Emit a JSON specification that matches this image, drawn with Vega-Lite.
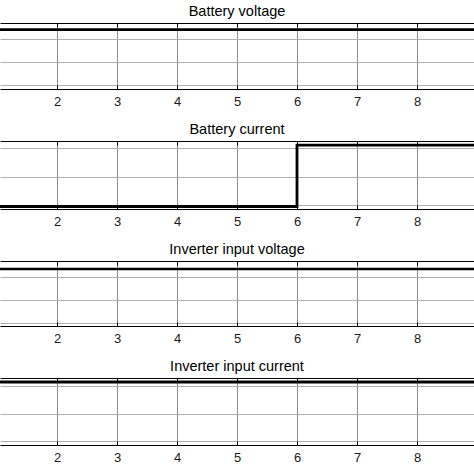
{
  "$schema": "https://vega.github.io/schema/vega-lite/v6.json",
  "background": "white",
  "autosize": {"type": "pad"},
  "padding": {"left": 0, "right": 0, "top": 4, "bottom": 0},
  "config": {
    "font": "Liberation Sans",
    "view": {"stroke": null},
    "title": {"fontSize": 14.5, "fontWeight": "normal", "color": "#000000", "offset": 3, "anchor": "middle"},
    "axisX": {"title": null, "domainColor": "#000000", "tickColor": "#000000", "tickSize": -4, "gridColor": "#8c8c8c", "labelFontSize": 13, "labelColor": "#1a1a1a", "labelPadding": 10},
    "axisY": {"title": null, "grid": true, "gridColor": "#b0b0b0", "domain": false, "ticks": false, "labels": false, "minExtent": 0, "maxExtent": 0}
  },
  "datasets": {
    "batteryVoltage": [
      {"t": 1, "v": 2.41},
      {"t": 9, "v": 2.41}
    ],
    "batteryCurrent": [
      {"t": 1, "v": -0.035},
      {"t": 6, "v": -0.035},
      {"t": 6, "v": 2.12},
      {"t": 9, "v": 2.12}
    ],
    "inverterVoltage": [
      {"t": 1, "v": 2.35},
      {"t": 9, "v": 2.35}
    ],
    "inverterCurrent": [
      {"t": 1, "v": 2.145},
      {"t": 9, "v": 2.145}
    ]
  },
  "spacing": 52,
  "bounds": "flush",
  "vconcat": [
    {
      "title": "Battery voltage",
      "width": 474,
      "height": 66,
      "data": {"name": "batteryVoltage"},
      "layer": [
        {
          "mark": {"type": "line", "color": "black", "strokeWidth": 2.8, "clip": true},
          "encoding": {
            "x": {"field": "t", "type": "quantitative", "scale": {"domain": [1.05, 8.95], "nice": false, "zero": false},
              "axis": {"orient": "bottom", "grid": true, "values": [2, 3, 4, 5, 6, 7, 8]}},
            "y": {"field": "v", "type": "quantitative", "scale": {"domain": [-0.174, 2.696], "nice": false, "zero": false},
              "axis": {"values": [0, 1, 2]}}
          }
        },
        {
          "mark": {"type": "line", "opacity": 0, "clip": true},
          "encoding": {
            "x": {"field": "t", "type": "quantitative",
              "axis": {"orient": "top", "grid": false, "labels": false, "values": [2, 3, 4, 5, 6, 7, 8]}}
          }
        }
      ],
      "resolve": {"axis": {"x": "independent"}}
    },
    {
      "title": "Battery current",
      "width": 474,
      "height": 68,
      "data": {"name": "batteryCurrent"},
      "layer": [
        {
          "mark": {"type": "line", "color": "black", "strokeWidth": 2.8, "clip": true},
          "encoding": {
            "x": {"field": "t", "type": "quantitative", "scale": {"domain": [1.05, 8.95], "nice": false, "zero": false},
              "axis": {"orient": "bottom", "grid": true, "values": [2, 3, 4, 5, 6, 7, 8]}},
            "y": {"field": "v", "type": "quantitative", "scale": {"domain": [-0.123, 2.263], "nice": false, "zero": false},
              "axis": {"values": [0, 1, 2]}}
          }
        },
        {
          "mark": {"type": "line", "opacity": 0, "clip": true},
          "encoding": {
            "x": {"field": "t", "type": "quantitative",
              "axis": {"orient": "top", "grid": false, "labels": false, "values": [2, 3, 4, 5, 6, 7, 8]}}
          }
        }
      ],
      "resolve": {"axis": {"x": "independent"}}
    },
    {
      "title": "Inverter input voltage",
      "width": 474,
      "height": 65,
      "data": {"name": "inverterVoltage"},
      "layer": [
        {
          "mark": {"type": "line", "color": "black", "strokeWidth": 2.6, "clip": true},
          "encoding": {
            "x": {"field": "t", "type": "quantitative", "scale": {"domain": [1.05, 8.95], "nice": false, "zero": false},
              "axis": {"orient": "bottom", "grid": true, "values": [2, 3, 4, 5, 6, 7, 8]}},
            "y": {"field": "v", "type": "quantitative", "scale": {"domain": [-0.13, 2.696], "nice": false, "zero": false},
              "axis": {"values": [0, 1, 2]}}
          }
        },
        {
          "mark": {"type": "line", "opacity": 0, "clip": true},
          "encoding": {
            "x": {"field": "t", "type": "quantitative",
              "axis": {"orient": "top", "grid": false, "labels": false, "values": [2, 3, 4, 5, 6, 7, 8]}}
          }
        }
      ],
      "resolve": {"axis": {"x": "independent"}}
    },
    {
      "title": "Inverter input current",
      "width": 474,
      "height": 67,
      "data": {"name": "inverterCurrent"},
      "layer": [
        {
          "mark": {"type": "line", "color": "black", "strokeWidth": 3, "clip": true},
          "encoding": {
            "x": {"field": "t", "type": "quantitative", "scale": {"domain": [1.05, 8.95], "nice": false, "zero": false},
              "axis": {"orient": "bottom", "grid": true, "values": [2, 3, 4, 5, 6, 7, 8]}},
            "y": {"field": "v", "type": "quantitative", "scale": {"domain": [-0.145, 2.291], "nice": false, "zero": false},
              "axis": {"values": [0, 1, 2]}}
          }
        },
        {
          "mark": {"type": "line", "opacity": 0, "clip": true},
          "encoding": {
            "x": {"field": "t", "type": "quantitative",
              "axis": {"orient": "top", "grid": false, "labels": false, "values": [2, 3, 4, 5, 6, 7, 8]}}
          }
        }
      ],
      "resolve": {"axis": {"x": "independent"}}
    }
  ]
}
